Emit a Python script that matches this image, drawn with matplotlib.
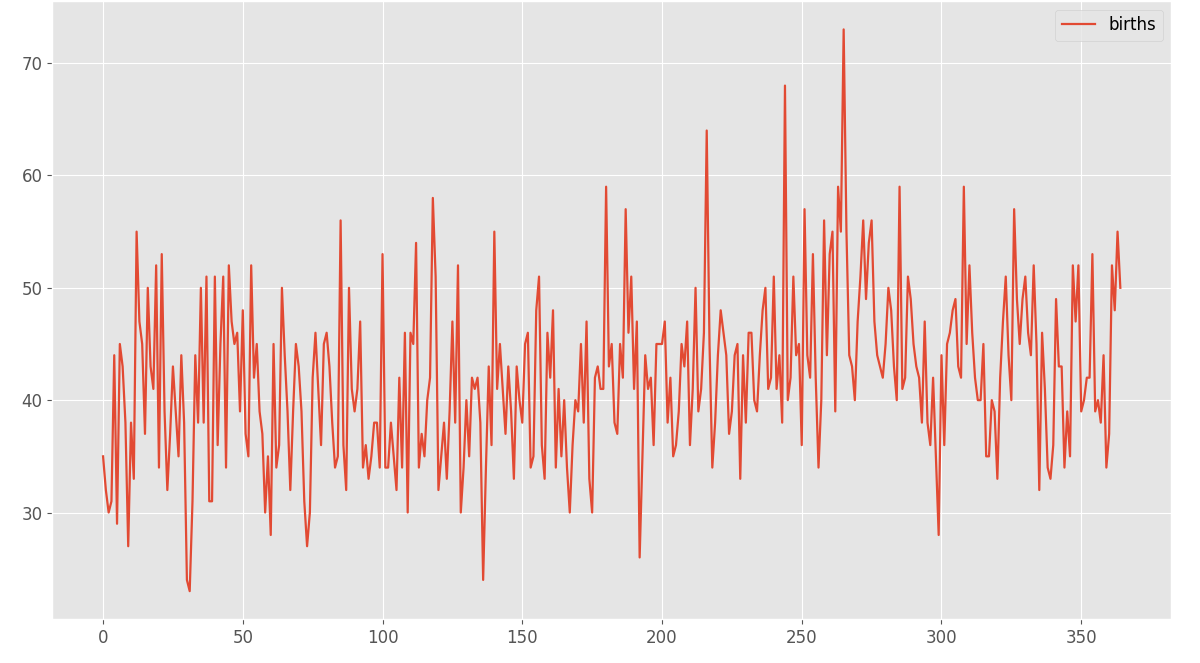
import matplotlib
matplotlib.use("Agg")
import matplotlib.pyplot as plt
import numpy as np

# daily female births, one value per day (index 0..364)
births = [
    35, 32, 30, 31, 44, 29, 45, 43, 38, 27, 38, 33, 55, 47, 45, 37, 50, 43, 41, 52,
    34, 53, 39, 32, 37, 43, 39, 35, 44, 38, 24, 23, 31, 44, 38, 50, 38, 51, 31, 31,
    51, 36, 45, 51, 34, 52, 47, 45, 46, 39, 48, 37, 35, 52, 42, 45, 39, 37, 30, 35,
    28, 45, 34, 36, 50, 44, 39, 32, 39, 45, 43, 39, 31, 27, 30, 42, 46, 41, 36, 45,
    46, 43, 38, 34, 35, 56, 36, 32, 50, 41, 39, 41, 47, 34, 36, 33, 35, 38, 38, 34,
    53, 34, 34, 38, 35, 32, 42, 34, 46, 30, 46, 45, 54, 34, 37, 35, 40, 42, 58, 51,
    32, 35, 38, 33, 39, 47, 38, 52, 30, 34, 40, 35, 42, 41, 42, 38, 24, 34, 43, 36,
    55, 41, 45, 41, 37, 43, 39, 33, 43, 40, 38, 45, 46, 34, 35, 48, 51, 36, 33, 46,
    42, 48, 34, 41, 35, 40, 34, 30, 36, 40, 39, 45, 38, 47, 33, 30, 42, 43, 41, 41,
    59, 43, 45, 38, 37, 45, 42, 57, 46, 51, 41, 47, 26, 35, 44, 41, 42, 36, 45, 45,
    45, 47, 38, 42, 35, 36, 39, 45, 43, 47, 36, 41, 50, 39, 41, 46, 64, 45, 34, 38,
    44, 48, 46, 44, 37, 39, 44, 45, 33, 44, 38, 46, 46, 40, 39, 44, 48, 50, 41, 42,
    51, 41, 44, 38, 68, 40, 42, 51, 44, 45, 36, 57, 44, 42, 53, 42, 34, 40, 56, 44,
    53, 55, 39, 59, 55, 73, 55, 44, 43, 40, 47, 51, 56, 49, 54, 56, 47, 44, 43, 42,
    45, 50, 48, 43, 40, 59, 41, 42, 51, 49, 45, 43, 42, 38, 47, 38, 36, 42, 35, 28,
    44, 36, 45, 46, 48, 49, 43, 42, 59, 45, 52, 46, 42, 40, 40, 45, 35, 35, 40, 39,
    33, 42, 47, 51, 44, 40, 57, 49, 45, 49, 51, 46, 44, 52, 45, 32, 46, 41, 34, 33,
    36, 49, 43, 43, 34, 39, 35, 52, 47, 52, 39, 40, 42, 42, 53, 39, 40, 38, 44, 34,
    37, 52, 48, 55, 50,
]
days = np.arange(len(births))

plt.style.use("ggplot")
fig, ax = plt.subplots(figsize=(12, 6.63), dpi=100)
plt.subplots_adjust(left=0.0435, right=0.976, top=0.998, bottom=0.066)

ax.plot(days, births, label="births", lw=1.6)
ax.tick_params(labelsize=12)
ax.legend(fontsize=12, loc="upper right")

fig.savefig("out.png", dpi=100)
